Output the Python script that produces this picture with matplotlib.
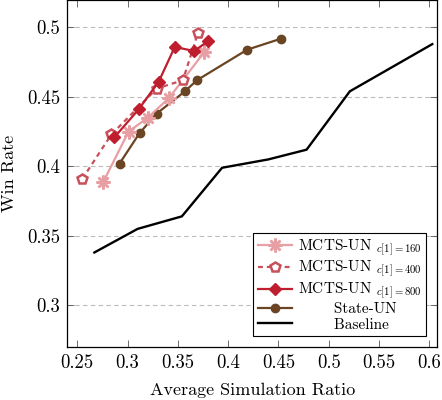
import matplotlib
matplotlib.use('Agg')
import matplotlib.pyplot as plt

plt.rcParams['font.family'] = 'cmr10'
plt.rcParams['mathtext.fontset'] = 'cm'
plt.rcParams['axes.unicode_minus'] = False

# series
baseline_x = [0.267, 0.310, 0.354, 0.394, 0.440, 0.478, 0.521, 0.603]
baseline_y = [0.338, 0.355, 0.364, 0.399, 0.405, 0.412, 0.454, 0.488]

state_x = [0.292, 0.312, 0.329, 0.357, 0.369, 0.419, 0.453]
state_y = [0.402, 0.424, 0.438, 0.454, 0.462, 0.484, 0.492]

mcts160_x = [0.276, 0.301, 0.320, 0.341, 0.376]
mcts160_y = [0.389, 0.425, 0.435, 0.449, 0.482]

mcts400_x = [0.255, 0.284, 0.329, 0.355, 0.370]
mcts400_y = [0.391, 0.423, 0.456, 0.462, 0.496]

mcts800_x = [0.287, 0.311, 0.331, 0.347, 0.366, 0.380]
mcts800_y = [0.421, 0.441, 0.461, 0.486, 0.483, 0.490]

xticks = [0.25, 0.3, 0.35, 0.4, 0.45, 0.5, 0.55, 0.6]
xtick_labels = ['0.25', '0.3', '0.35', '0.4', '0.45', '0.5', '0.55', '0.6']
yticks = [0.3, 0.35, 0.4, 0.45, 0.5]
ytick_labels = ['0.3', '0.35', '0.4', '0.45', '0.5']

fig = plt.figure(figsize=(4.42, 4.0), dpi=100)
ax = fig.add_axes([0.1523, 0.1333, 0.8371, 0.8655])

pink = '#E89FA3'
red1 = '#C8505A'
red2 = '#BE1E2D'
brown = '#6B4423'

l1, = ax.plot(mcts160_x, mcts160_y, color=pink, lw=1.6, marker=(8, 2, 0),
              ms=10, mew=1.8, zorder=4)
l2, = ax.plot(mcts400_x, mcts400_y, color=red1, lw=1.6, ls=(0, (2.2, 1.8)),
              marker='p', ms=7, mew=1.8, mfc='white', zorder=5)
l3, = ax.plot(mcts800_x, mcts800_y, color=red2, lw=1.6, marker='D',
              ms=6.5, zorder=6)
l4, = ax.plot(state_x, state_y, color=brown, lw=1.6, marker='o', ms=6, zorder=3)
l5, = ax.plot(baseline_x, baseline_y, color='black', lw=1.7, zorder=3)

ax.set_xlim(0.2401, 0.608)
ax.set_ylim(0.2702, 0.5194)
ax.set_xticks(xticks)
ax.set_xticklabels(xtick_labels)
ax.set_yticks(yticks)
ax.set_yticklabels(ytick_labels)
ax.tick_params(direction='in', top=True, right=True, length=5, width=0.6,
               color='#555555', labelsize=13.5, pad=5)
ax.yaxis.grid(True, color='#BBBBBB', ls=(0, (4, 3)), lw=0.8)
ax.set_axisbelow(True)
for s in ax.spines.values():
    s.set_linewidth(0.9)

ax.set_xlabel('Average Simulation Ratio', fontsize=13, labelpad=8)
ax.set_ylabel('Win Rate', fontsize=13, labelpad=7)

# leading spaces stand in for the centred legend cells of the original
labels = ['MCTS-UN $_{c[1]=160}$', 'MCTS-UN $_{c[1]=400}$',
          'MCTS-UN $_{c[1]=800}$', '       State-UN', '       Baseline']
leg = ax.legend([l1, l2, l3, l4, l5], labels, loc='lower right',
                bbox_to_anchor=(0.97, 0.03), borderaxespad=0, fontsize=11,
                fancybox=False, edgecolor='black', framealpha=1,
                handlelength=2.2, handletextpad=0.4, labelspacing=0.1,
                borderpad=0.3)
leg.get_frame().set_linewidth(0.8)

fig.savefig('out.png', dpi=100)
